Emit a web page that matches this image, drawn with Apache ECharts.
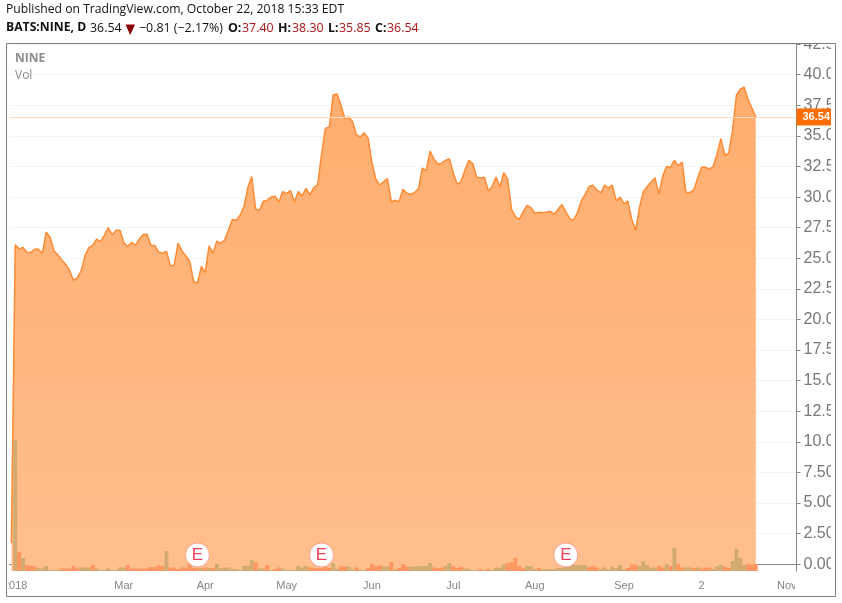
<!DOCTYPE html>
<html><head><meta charset="utf-8">
<style>html,body{margin:0;padding:0;background:#fff}#c{width:842px;height:603px}</style>
<script src="https://cdn.jsdelivr.net/npm/echarts@6/dist/echarts.min.js"></script>
</head><body><div id="c"></div>
<script>
const months = [
 ['01',[18,19,22,23,24,25,26,29,30,31]],
 ['02',[1,2,5,6,7,8,9,12,13,14,15,16,20,21,22,23,26,27,28]],
 ['03',[1,2,5,6,7,8,9,12,13,14,15,16,19,20,21,22,23,26,27,28,29]],
 ['04',[2,3,4,5,6,9,10,11,12,13,16,17,18,19,20,23,24,25,26,27,30]],
 ['05',[1,2,3,4,7,8,9,10,11,14,15,16,17,18,21,22,23,24,25,29,30,31]],
 ['06',[1,4,5,6,7,8,11,12,13,14,15,18,19,20,21,22,25,26,27,28,29]],
 ['07',[2,3,5,6,9,10,11,12,13,16,17,18,19,20,23,24,25,26,27,30,31]],
 ['08',[1,2,3,6,7,8,9,10,13,14,15,16,17,20,21,22,23,24,27,28,29,30,31]],
 ['09',[4,5,6,7,10,11,12,13,14,17,18,19,20,21,24,25,26,27,28]],
 ['10',[1,2,3,4,5,8,9,10,11,12,15,16,17,18,19,22,23,24,25,26,29,30,31]],
 ['11',[1,2,5]]
];
const categories = months.flatMap(([m,ds]) => ds.map(d => `2018-${m}-${String(d).padStart(2,'0')}`));
const tickLabels = {'2018-01-19':'2018','2018-03-01':'Mar','2018-04-02':'Apr','2018-05-01':'May','2018-06-01':'Jun','2018-07-02':'Jul','2018-08-01':'Aug','2018-09-04':'Sep','2018-10-02':'2','2018-11-01':'Nov'};
const closes = [1.74,26.1,25.77,25.88,25.5,25.47,25.74,25.74,25.42,27.13,
26.7,25.6,25.28,24.87,24.49,24.03,23.2,23.43,23.97,25.2,
25.88,26.07,26.56,26.37,26.89,27.51,26.91,27.3,27.3,26.29,
25.96,26.29,26.07,26.56,26.94,26.97,26.04,26.04,25.5,25.42,
25.58,24.38,24.43,26.23,25.6,25.2,24.76,23.1,22.96,24.33,
23.84,26.01,25.42,26.4,26.23,26.48,27.32,28.17,28.11,28.52,
29.23,30.78,31.68,29.01,28.93,29.67,29.75,30.0,30.07,29.6,
30.45,30.29,30.53,29.6,30.45,30.1,30.72,30.18,30.78,30.99,
33.5,35.63,35.71,38.35,38.43,37.51,36.42,36.55,36.17,35.08,
34.92,35.25,34.81,32.82,31.46,30.99,31.24,31.51,29.6,29.74,
29.63,30.64,30.31,30.23,30.37,30.67,32.36,32.14,33.77,33.09,
32.71,32.77,33.01,33.12,31.95,31.05,31.27,32.22,33.01,32.74,
31.62,31.57,31.62,30.5,30.86,31.65,30.83,32.0,31.46,29.0,
28.41,28.19,28.81,29.33,29.14,28.68,28.76,28.73,28.76,28.84,
28.6,29.0,29.39,28.81,28.24,28.11,28.73,29.69,30.23,30.86,
30.97,30.59,30.34,30.97,30.75,30.97,29.69,29.99,29.47,29.66,
28.19,27.29,29.14,30.45,30.86,31.24,31.59,30.23,31.73,32.49,
32.44,33.01,32.57,32.87,30.37,30.37,30.59,31.54,32.44,32.44,
32.28,32.49,33.5,34.78,33.42,33.58,35.41,38.32,38.81,38.98,
38.0,37.26,36.54];
const volumes = [0,1310,190,130,60,50,45,30,25,50,
10,10,10,25,25,25,50,25,35,35,
35,60,25,10,10,25,10,10,35,35,
60,25,25,25,25,25,40,40,55,50,
200,35,35,20,35,35,80,30,30,30,
35,30,30,70,25,35,35,20,20,10,
50,50,110,90,25,25,60,10,20,35,
25,10,10,10,50,35,50,35,30,30,
30,40,30,80,20,45,45,45,20,35,
10,10,30,70,50,55,45,45,90,20,
30,70,45,45,45,50,50,50,80,35,
30,35,50,80,50,30,40,25,25,10,
10,20,10,20,10,35,35,65,80,90,
130,50,25,50,50,20,30,20,20,20,
20,30,30,50,60,60,60,60,60,40,
50,35,20,35,15,45,30,60,20,30,
65,65,50,100,60,35,35,50,35,70,
50,230,70,35,35,35,30,35,25,35,
35,20,45,60,45,30,100,220,130,60,
70,65,70];
const volumeUp = [1,1,0,1,0,0,0,1,1,1,
1,1,1,0,0,0,0,0,1,1,
1,0,1,1,1,1,1,1,1,1,
0,0,0,0,0,0,0,0,0,0,
1,0,0,0,0,0,0,0,0,1,
0,1,0,1,1,1,1,1,1,1,
1,1,1,0,1,1,0,1,0,0,
1,1,1,1,1,1,1,0,0,0,
0,0,0,1,1,0,0,1,1,0,
1,1,0,0,0,0,1,1,0,1,
0,0,0,1,1,1,1,1,1,0,
0,0,1,1,0,0,0,1,1,1,
1,0,1,0,1,1,1,1,0,0,
0,0,0,1,1,1,0,1,1,1,
1,1,1,1,1,1,1,1,1,0,
0,0,1,1,1,1,1,1,1,0,
0,0,1,1,1,1,1,0,0,1,
0,1,0,0,1,1,0,1,0,0,
0,1,1,1,0,0,1,1,1,1,
0,0,0];
const earningsDates = ['2018-03-28','2018-05-14','2018-08-13'];
const lastClose = 36.54;
const priceMin = -0.55, priceMax = 42.55;
const priceTicks = [0,2.5,5,7.5,10,12.5,15,17.5,20,22.5,25,27.5,30,32.5,35,37.5,40,42.5];
const header1 = 'Published on TradingView.com, October 22, 2018 15:33 EDT';

const fmtY = v => v < 10 ? v.toFixed(2) : v.toFixed(1);
const hdrFont = '"Open Sans", "Noto Sans", sans-serif';
const hdr = (x, text, fill, weight, size) => ({type:'text',z:102,silent:true,x,y:22,
  style:{text,fill:fill||'#111',font:`${weight||'normal'} ${size||12.4}px ${hdrFont}`,textVerticalAlign:'top'}});
const chart = echarts.init(document.getElementById('c'), null, {renderer:'canvas'});
chart.setOption({
  animation:false,
  backgroundColor:'#fff',
  grid:{left:7.7,right:45.5,top:43.5,bottom:32,containLabel:false},
  xAxis:{type:'category',data:categories,boundaryGap:true,
    axisLine:{lineStyle:{color:'#868686',width:1}},
    axisTick:{alignWithLabel:true,length:4,lineStyle:{color:'#868686'},
      interval:(i,v)=>v in tickLabels},
    axisLabel:{interval:(i,v)=>v in tickLabels,formatter:v=>tickLabels[v]||'',
      color:'#858585',fontSize:11,fontFamily:'Liberation Sans',margin:9,hideOverlap:false,showMinLabel:true,showMaxLabel:true},
    splitLine:{show:false}},
  yAxis:[{type:'value',position:'right',min:priceMin,max:priceMax,
      axisLine:{show:true,lineStyle:{color:'#868686',width:1}},
      axisTick:{show:true,length:4,lineStyle:{color:'#868686'},customValues:priceTicks},
      axisLabel:{customValues:priceTicks,formatter:fmtY,color:'#787878',fontSize:16,fontFamily:'Liberation Sans',margin:7},
      splitLine:{show:true,lineStyle:{color:'#f1f4f8',width:1}}},
    {type:'value',min:0,max:5270,show:false,splitLine:{show:false}}],
  series:[
   {name:'NINE',type:'line',data:closes,symbol:'none',z:2,clip:true,
    lineStyle:{color:'#ff8a33',width:1.5},
    areaStyle:{origin:'start',opacity:1,color:new echarts.graphic.LinearGradient(0,0,0,1,[{offset:0,color:'#ffad6e'},{offset:1,color:'#ffbf8d'}])},
    markLine:{silent:true,symbol:'none',z:6,animation:false,
      data:[{yAxis:lastClose}],
      lineStyle:{color:'#ffd9bd',width:1,type:'solid'},
      label:{show:true,position:'end',distance:0,formatter:()=>lastClose.toFixed(2),
        backgroundColor:'#ff6d00',color:'#fff',fontFamily:'Liberation Sans',fontSize:11,fontWeight:'bold',
        padding:[3,5,3,6],align:'left',lineHeight:11}}},
   {name:'Vol',type:'bar',yAxisIndex:1,data:volumes,barWidth:'100%',z:3,
    itemStyle:{color:p=>volumeUp[p.dataIndex]?'#d0aa70':'#ff9560'}},
   {name:'Earnings',type:'scatter',data:earningsDates.map(d=>[d,0.76]),symbol:'circle',symbolSize:24,z:5,
    itemStyle:{color:'#fff',borderColor:'#fb9f8f',borderWidth:1,opacity:1},
    label:{show:true,position:'inside',formatter:'E',color:'#f0405a',fontSize:17,fontFamily:'Liberation Sans'}}
  ],
  graphic:[
   {type:'rect',z:100,silent:true,shape:{x:831,y:36,width:11,height:560},style:{fill:'#fff'}},
   {type:'rect',z:100,silent:true,shape:{x:797,y:30,width:40,height:13},style:{fill:'#fff'}},
   {type:'rect',z:100,silent:true,shape:{x:0,y:574,width:8,height:22},style:{fill:'#fff'}},
   {type:'rect',z:100,silent:true,shape:{x:795,y:574,width:36,height:22},style:{fill:'#fff'}},
   {type:'rect',z:101,silent:true,shape:{x:6.5,y:43.5,width:829,height:553},style:{fill:'none',stroke:'#7c7c7c',lineWidth:1}},
   {type:'text',z:102,silent:true,x:6,y:4,style:{text:header1,fill:'#111',font:'12.2px '+hdrFont,textVerticalAlign:'top'}},
   hdr(6,'BATS:NINE, D',null,'bold',12.2),
   hdr(90,'36.54'),
   {type:'polygon',z:102,silent:true,shape:{points:[[125.5,24.5],[135,24.5],[130.2,35]]},style:{fill:'#8b0000'}},
   hdr(139,'−0.81 (−2.17%)'),
   hdr(228,'O:',null,'bold'), hdr(242,'37.40','#ad1414'),
   hdr(278,'H:',null,'bold'), hdr(292,'38.30','#ad1414'),
   hdr(328,'L:',null,'bold'), hdr(339,'35.85','#ad1414'),
   hdr(375,'C:',null,'bold'), hdr(387,'36.54','#ad1414'),
   {type:'text',z:102,silent:true,x:15,y:53,style:{text:'NINE',fill:'#8c8c8c',font:'bold 12px '+hdrFont,textVerticalAlign:'top'}},
   {type:'text',z:102,silent:true,x:15,y:70,style:{text:'Vol',fill:'#8c8c8c',font:'12px '+hdrFont,textVerticalAlign:'top'}}
  ]
});
</script></body></html>
